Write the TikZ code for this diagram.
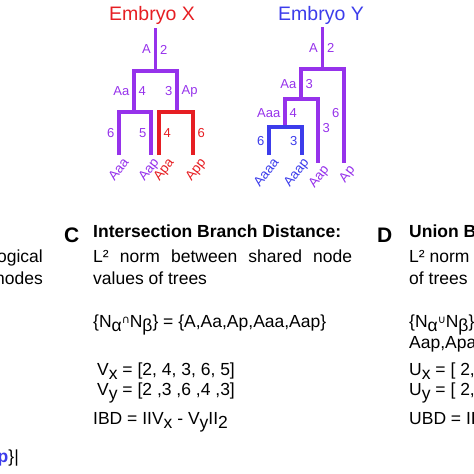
\documentclass[tikz,border=0pt]{standalone}
\usepackage{fontspec}
\usetikzlibrary{calc}
\setmainfont{Liberation Sans}
\newfontfamily\symfont{DejaVu Sans}
\definecolor{treepurple}{RGB}{150,50,235}
\definecolor{treered}{RGB}{230,30,35}
\definecolor{treeblue}{RGB}{60,60,235}
\newcommand{\lowsub}[1]{\raisebox{-4.5pt}{#1}}
\newcommand{\setsym}[1]{\raisebox{4pt}{\fontsize{11}{11}\selectfont\symfont #1}}

\begin{document}
\begin{tikzpicture}
[
    x=1pt, y=-1pt,
    branch/.style={line width=3.4pt},
    lbl/.style={font=\fontsize{13}{13}\selectfont, inner sep=1.5pt},
    leaf/.style={font=\fontsize{13.5}{13.5}\selectfont, rotate=52, anchor=north east, inner sep=0pt},
    title/.style={anchor=base, font=\fontsize{19.5}{19.5}\selectfont},
    txt/.style={anchor=base west, inner sep=0pt, font=\fontsize{17.5}{21}\selectfont},
    head/.style={txt, font=\fontsize{17.5}{21}\selectfont\bfseries},
    letter/.style={anchor=base west, inner sep=0pt, font=\fontsize{21}{21}\selectfont\bfseries}
]
    \useasboundingbox (0,0) rectangle (474,474);
    \clip (0,0) rectangle (474,474);

    % embryo X
    \begin{scope}[treepurple]
        \node [title, treered] (titleX) at (152,20) {Embryo X};
        \coordinate (xtop) at (155.5,28);
        \coordinate (xA) at (155.5,71);
        \coordinate (xAa) at (134,112);
        \coordinate (xAp) at (177,112);
        \coordinate (xAaa) at (119,155);
        \coordinate (xAap) at (151,155);
        \coordinate (xApa) at (159,155);
        \coordinate (xApp) at (193,155);

        \draw [branch] (xtop) -- (xA);
        \draw [branch] (xAa) |- (xA) -| (xAp);
        \draw [branch] (xAaa) |- (xAa) -| (xAap);
        \draw [branch, treered] (xApa) |- (xAp) -| (xApp);

        \path (xtop) -- (xA) node [midway, lbl, left=3pt] (xlA) {A} node [midway, lbl, right=3pt] (xvA) {2};
        \path (xA -| xAa) -- (xAa) node [midway, lbl, left=3pt] (xlAa) {Aa} node [midway, lbl, right=3pt] (xvAa) {4};
        \path (xA -| xAp) -- (xAp) node [midway, lbl, left=3pt] (xvAp) {3} node [midway, lbl, right=3pt] (xlAp) {Ap};
        \path (xAa -| xAaa) -- (xAaa) node [midway, lbl, left=3pt] (xvAaa) {6};
        \path (xAa -| xAap) -- (xAap) node [midway, lbl, left=3pt] (xvAap) {5};
        \path (xAp -| xApa) -- (xApa) node [midway, lbl, right=3pt, treered] (xvApa) {4};
        \path (xAp -| xApp) -- (xApp) node [midway, lbl, right=3pt, treered] (xvApp) {6};

        \node [leaf] (xnAaa) at ($(xAaa)+(3,2)$) {Aaa};
        \node [leaf] (xnAap) at ($(xAap)+(1,2)$) {Aap};
        \node [leaf, treered] (xnApa) at ($(xApa)+(8,2)$) {Apa};
        \node [leaf, treered] (xnApp) at ($(xApp)+(6,2)$) {App};
    \end{scope}

    % embryo Y
    \begin{scope}[treepurple]
        \node [title, treeblue] (titleY) at (321,20) {Embryo Y};
        \coordinate (ytop) at (322.5,27);
        \coordinate (yA) at (322.5,69);
        \coordinate (yAa) at (301,99);
        \coordinate (yAp) at (344,163);
        \coordinate (yAaa) at (285,127);
        \coordinate (yAap) at (318,163);
        \coordinate (yAaaa) at (269,155);
        \coordinate (yAaap) at (302,155);

        \draw [branch] (ytop) -- (yA);
        \draw [branch] (yAa) |- (yA) -| (yAp);
        \draw [branch] (yAaa) |- (yAa) -| (yAap);
        \draw [branch, treeblue] (yAaaa) |- (yAaa) -| (yAaap);

        \path (ytop) -- (yA) node [midway, lbl, left=3pt] (ylA) {A} node [midway, lbl, right=3pt] (yvA) {2};
        \path (yA -| yAa) -- (yAa) node [midway, lbl, left=3pt] (ylAa) {Aa} node [midway, lbl, right=3pt] (yvAa) {3};
        \path (yA -| yAp) -- (yAp) node [pos=0.47, lbl, left=3pt] (yvAp) {6};
        \path (yAa -| yAaa) -- (yAaa) node [midway, lbl, left=3pt] (ylAaa) {Aaa} node [midway, lbl, right=3pt] (yvAaa) {4};
        \path (yAa -| yAap) -- (yAap) node [pos=0.45, lbl, right=3pt] (yvAap) {3};
        \path (yAaa -| yAaaa) -- (yAaaa) node [midway, lbl, left=3pt, treeblue] (yvAaaa) {6};
        \path (yAaa -| yAaap) -- (yAaap) node [midway, lbl, left=3pt, treeblue] (yvAaap) {3};

        \node [leaf, treeblue] (ynAaaa) at ($(yAaaa)+(3,2)$) {Aaaa};
        \node [leaf, treeblue] (ynAaap) at ($(yAaap)+(0,2)$) {Aaap};
        \node [leaf] (ynAap) at ($(yAap)+(4,1)$) {Aap};
        \node [leaf] (ynAp) at ($(yAp)+(4,1)$) {Ap};
    \end{scope}

    % cut-off column B
    \node [txt, anchor=base east] (cutB1) at (43,262) {ogical};
    \node [txt, anchor=base east] (cutB2) at (43,284) {nodes};
    \node [txt, anchor=base east] (cutB3) at (19,462) {\textcolor{treeblue}{\bfseries p}\}|};

    % panel C
    \node [letter] (letC) at (64,242) {C};
    \node [head] (headC) at (93,237) {Intersection Branch Distance:};
    \node [txt] (normC) at (93,262) {\makebox[259pt][s]{L² norm between shared node}};
    \node [txt] (treesC) at (93,284) {values of trees};
    \node [txt] (setC) at (93,327) {\{N\lowsub{α}\setsym{∩}N\lowsub{β}\} = \{A,Aa,Ap,Aaa,Aap\}};
    \node [txt] (vecX) at (97,375) {V\lowsub{x} = [2, 4, 3, 6, 5]};
    \node [txt] (vecY) at (97,395) {V\lowsub{y} = [2 ,3 ,6 ,4 ,3]};
    \node [txt] (ibd) at (93,424) {IBD = IIV\lowsub{x} - V\lowsub{y}II\lowsub{2}};

    % panel D
    \node [letter] (letD) at (377,242) {D};
    \node [head] (headD) at (409,237) {Union B};
    \node [txt] (normD) at (409,262) {L² norm};
    \node [txt] (treesD) at (409,284) {of trees};
    \node [txt] (setD) at (409,327) {\{N\lowsub{α}\setsym{∪}N\lowsub{β}\}};
    \node [txt] (setD2) at (409,348) {Aap,Apa};
    \node [txt] (vecUx) at (409,375) {U\lowsub{x} = [ 2,};
    \node [txt] (vecUy) at (409,395) {U\lowsub{y} = [ 2,};
    \node [txt] (ubd) at (409,424) {UBD = II};
\end{tikzpicture}
\end{document}
